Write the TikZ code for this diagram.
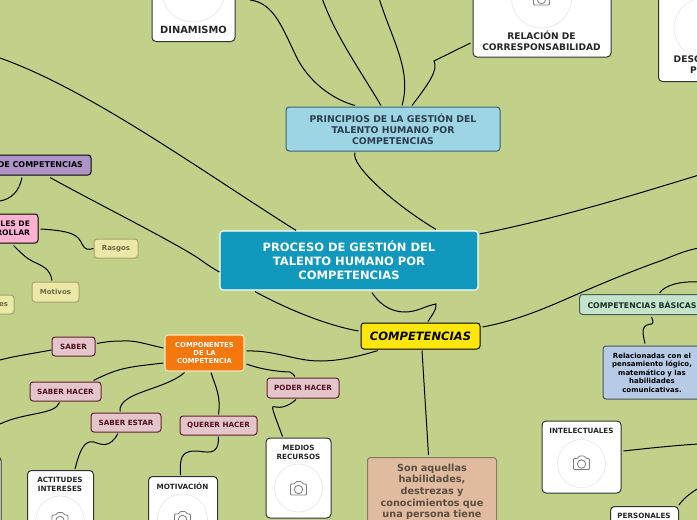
\documentclass[tikz,border=0pt]{standalone}
\usepackage{fontspec}
\setmainfont{DejaVu Sans}
\definecolor{bgc}{RGB}{194,209,138}
\definecolor{centc}{RGB}{16,153,189}
\definecolor{prinf}{RGB}{157,213,228}
\definecolor{prind}{RGB}{62,98,115}
\definecolor{print}{RGB}{44,62,80}
\definecolor{yelc}{RGB}{255,231,11}
\definecolor{purc}{RGB}{175,148,200}
\definecolor{pinkc}{RGB}{255,179,209}
\definecolor{kf}{RGB}{236,232,168}
\definecolor{kd}{RGB}{165,162,106}
\definecolor{kt}{RGB}{108,104,70}
\definecolor{rf}{RGB}{228,197,203}
\definecolor{rd}{RGB}{101,31,46}
\definecolor{rt}{RGB}{84,14,32}
\definecolor{orc}{RGB}{245,120,13}
\definecolor{orb}{RGB}{250,228,190}
\definecolor{sf}{RGB}{224,187,159}
\definecolor{sd}{RGB}{133,122,104}
\definecolor{st}{RGB}{90,78,64}
\definecolor{gf}{RGB}{195,227,203}
\definecolor{gd}{RGB}{72,96,84}
\definecolor{gt}{RGB}{24,48,36}
\definecolor{bf}{RGB}{183,203,231}
\definecolor{bd}{RGB}{70,84,100}
\definecolor{camc}{RGB}{125,125,125}
\definecolor{ringc}{RGB}{232,232,232}
\tikzset{
 x=1pt,y=-1pt,
 base/.style={draw,rounded corners=3pt,line width=1pt,inner sep=0pt,align=center},
 central/.style={base,fill=centc,draw=white,text=white,line width=1.2pt,font=\fontsize{11.5}{14}\selectfont\bfseries},
 princ/.style={base,fill=prinf,draw=prind,text=print,font=\fontsize{9.3}{11.2}\selectfont\bfseries},
 compet/.style={base,fill=yelc,draw=black,font=\fontsize{11.5}{14}\selectfont\bfseries\itshape},
 purpl/.style={base,fill=purc,draw=black,font=\fontsize{8}{10}\selectfont\bfseries},
 pinkb/.style={base,fill=pinkc,draw=black,font=\fontsize{7.6}{9}\selectfont\bfseries},
 khaki/.style={base,fill=kf,draw=kd,text=kt,font=\fontsize{7}{9}\selectfont\bfseries},
 rose/.style={base,fill=rf,draw=rd,text=rt,font=\fontsize{7.2}{9}\selectfont\bfseries},
 orang/.style={base,fill=orc,draw=orb,text=white,line width=1.1pt,font=\fontsize{6.8}{8.4}\selectfont\bfseries},
 sandb/.style={base,fill=sf,draw=sd,text=st,font=\fontsize{9.7}{11.6}\selectfont\bfseries},
 greenb/.style={base,fill=gf,draw=gd,text=gt,font=\fontsize{7.8}{10}\selectfont\bfseries},
 blueb/.style={base,fill=bf,draw=bd,text=black,font=\fontsize{7}{8.5}\selectfont\bfseries},
 card/.style={base,fill=white,draw=black!80,rounded corners=4pt},
 cardtext/.style={inner sep=0pt,align=center,text=black!85,font=\fontsize{7.2}{9}\selectfont\bfseries},
 ring/.style={draw=ringc,line width=.7pt,fill=white},
 link/.style={draw=black,line width=1pt},
}
\newcommand{\camicon}[2]{%
 \begin{scope}[shift={(#1,#2)}]
  \draw[camc,line width=.8pt,rounded corners=1pt,fill=white] (-8,-5) -- (-4,-5) -- (-2.5,-7.5) -- (3,-7.5) -- (4.5,-5) -- (8,-5) -- (8,6) -- (-8,6) -- cycle;
  \draw[camc,line width=.8pt] (0,0.5) circle (4.2);
 \end{scope}}
\begin{document}
\begin{tikzpicture}
\useasboundingbox (0,0) rectangle (697,520);
\clip (0,0) rectangle (697,520);
\fill[bgc] (0,0) rectangle (697,520);

% free ends that run off the page
\coordinate (tl) at (0,58);
\coordinate (c0) at (250,0);
\coordinate (c1) at (322,-2);
\coordinate (c2) at (379,-2);
\coordinate (e0) at (0,201);
\coordinate (e1) at (0,360);
\coordinate (e2) at (0,424);
\coordinate (e3) at (699,175);
\coordinate (e4) at (699,248);
\coordinate (e5) at (699,282);
\coordinate (e6) at (699,444);
\coordinate (e7) at (699,488);

% nodes
\node[central,minimum width=258pt,minimum height=59pt] (cen) at (349,260.5) {PROCESO DE GESTIÓN DEL\\TALENTO HUMANO POR\\COMPETENCIAS};
\node[princ,minimum width=214pt,minimum height=44pt] (pri) at (393,129) {PRINCIPIOS DE LA GESTIÓN DEL\\TALENTO HUMANO POR\\COMPETENCIAS};
\node[compet,minimum width=119pt,minimum height=26pt] (com) at (420.5,336) {COMPETENCIAS};
\node[purpl,text width=93pt,align=right,inner xsep=8pt,minimum height=20pt] (pur) at (36.5,165) {DE COMPETENCIAS};
\node[pinkb,text width=60pt,align=right,inner xsep=8pt,minimum height=29pt] (pin) at (-0,228.5) {LES DE\hspace{2pt}\\ROLLAR};
\node[khaki,minimum width=44pt,minimum height=19pt] (ras) at (116,248.5) {Rasgos};
\node[khaki,minimum width=47pt,minimum height=20pt] (mot) at (55.5,292) {Motivos};
\node[khaki,text width=20pt,align=right,inner xsep=6pt,minimum height=19pt] (tes) at (-2,304.5) {es};
\node[orang,minimum width=79pt,minimum height=36pt] (cpt) at (204.5,353) {COMPONENTES\\DE LA\\COMPETENCIA};
\node[rose,minimum width=43pt,minimum height=19pt] (sab) at (73.5,346.5) {SABER};
\node[rose,minimum width=71pt,minimum height=19pt] (sah) at (65.5,391.5) {SABER HACER};
\node[rose,minimum width=70pt,minimum height=19pt] (sae) at (126,422.5) {SABER ESTAR};
\node[rose,minimum width=77pt,minimum height=19pt] (que) at (218.5,425.5) {QUERER HACER};
\node[rose,minimum width=72pt,minimum height=20pt] (pod) at (303,388) {PODER HACER};
\node[sandb,anchor=north west,text width=129pt,inner ysep=6.5pt] (son) at (367,457) {Son aquellas\\habilidades,\\destrezas y\\conocimientos que\\una persona tiene\\\strut};
\node[greenb,anchor=north west,minimum width=140pt,minimum height=20pt,text width=132pt,align=left,inner xsep=4pt] (bas) at (579,294) {\hspace{4pt}COMPETENCIAS BÁSICAS};
\node[blueb,minimum width=98pt,minimum height=53pt] (rel) at (652,372.5) {Relacionadas con el\\pensamiento lógico,\\matemático y las\\habilidades\\comunicativas.};

% cards
\node[card,minimum width=83pt,minimum height=71pt] (din) at (193.5,6) {};
\node[card,minimum width=138pt,minimum height=87pt] (rlc) at (542,13.5) {};
\node[card,anchor=north west,minimum width=60pt,minimum height=86pt] (des) at (658,-5) {};
\node[card,minimum width=65pt,minimum height=80pt] (med) at (298.5,478) {};
\node[card,anchor=north west,minimum width=69pt,minimum height=70pt] (mti) at (148,476) {};
\node[card,anchor=north west,minimum width=66pt,minimum height=70pt] (act) at (27,470) {};
\node[card,anchor=north east,minimum width=20pt,minimum height=90pt] (lft) at (1.5,456) {};
\node[card,minimum width=79pt,minimum height=72pt] (int) at (581.5,457) {};
\node[card,anchor=north west,minimum width=68pt,minimum height=40pt] (per) at (610,506) {};

\fill[ring] (193.5,-10) circle (32);
\fill[ring] (541.5,-2) circle (30);
\fill[ring] (704,28) circle (30);
\fill[ring] (298.5,488) circle (24);
\fill[ring] (182.5,519) circle (25);
\fill[ring] (60,520) circle (24);
\fill[ring] (581.5,463.5) circle (24);
\camicon{541.5}{-1}
\camicon{298.5}{489}
\camicon{182.5}{519}
\camicon{60}{520}
\camicon{581.5}{463.5}

\node[cardtext,font=\fontsize{9.9}{11}\selectfont\bfseries] (tdin) at (193.5,30) {DINAMISMO};
\node[cardtext,font=\fontsize{9.1}{11.3}\selectfont\bfseries] (trlc) at (541.5,41) {RELACIÓN DE\\CORRESPONSABILIDAD};
\node[cardtext,font=\fontsize{9.1}{11}\selectfont\bfseries,anchor=north west] (tdes) at (670,56) {DESC\\\hspace{20pt}PU};
\node[cardtext] (tmed) at (298.5,452) {MEDIOS\\RECURSOS};
\node[cardtext] (tmti) at (182.5,486) {MOTIVACIÓN};
\node[cardtext] (tact) at (60,484.5) {ACTITUDES\\INTERESES};
\node[cardtext] (tint) at (581.5,430.5) {INTELECTUALES};
\node[cardtext] (tper) at (644,515.5) {PERSONALES};

% connectors
\draw[link] (tl) .. controls (90,90) and (200,170) .. ([xshift=-53pt]cen.north);
\draw[link] ([xshift=13.5pt,yshift=-2pt]pur.south) .. controls (100,205) and (170,240) .. (198,258) .. controls (205,263) and (212,268) .. ([yshift=-11.5pt]cen.west);
\draw[link] ([xshift=-14.5pt,yshift=-2pt]pur.south) .. controls (19,192) and (11,199) .. (e0);
\draw[link] (pin.east) ++(2,0.5) .. controls (75,231) and (78,236) .. (82,244) .. controls (85,250) and (88,250) .. (ras.west);
\draw[link] ([yshift=-17pt,xshift=-25pt]pin.east) .. controls (20,252) and (26,258) .. (32,261) .. controls (42,266) and (50,268) .. ([yshift=1pt,xshift=-3.5pt]mot.north);
\draw[link] (c0) .. controls (275,3) and (283,30) .. (298,60) .. controls (312,85) and (335,100) .. ([xshift=-38pt,yshift=1pt]pri.north);
\draw[link] (c1) .. controls (335,35) and (360,70) .. ([xshift=-12pt,yshift=1pt]pri.north);
\draw[link] (c2) .. controls (392,40) and (412,70) .. ([xshift=9pt,yshift=1pt]pri.north);
\draw[link] ([xshift=-2pt,yshift=-29.5pt]rlc.west) -- (434,61) .. controls (438,70) and (430,82) .. ([xshift=19pt,yshift=1pt]pri.north);
\draw[link] ([xshift=-38pt,yshift=-1pt]pri.south) .. controls (350,165) and (395,205) .. ([xshift=87pt,yshift=1pt]cen.north);
\draw[link] ([xshift=1pt,yshift=26.5pt]cen.east) .. controls (560,218) and (640,193) .. (e3);
\draw[link] ([xshift=2pt,yshift=9pt]com.east) .. controls (520,320) and (550,306) .. (580,293) .. controls (610,280) and (640,268) .. (663,260) .. controls (675,255) and (687,250) .. (e4);
\draw[link] ([xshift=23pt,yshift=-2pt]cen.south) .. controls (382,308) and (395,312) .. (405,312) .. controls (417,312) and (425,306) .. (436,304) .. controls (437,310) and (431,316) .. ([xshift=7.5pt,yshift=1pt]com.north);
\draw[link] ([xshift=-94pt,yshift=-1pt]cen.south) .. controls (285,308) and (325,325) .. ([xshift=-2pt,yshift=5pt]com.west);
\draw[link] ([xshift=2pt,yshift=2pt]cpt.east) .. controls (275,350) and (295,361) .. (320,361) .. controls (340,361) and (360,356) .. ([xshift=-42.5pt,yshift=-1pt]com.south);
\draw[link] ([xshift=-1pt,yshift=5pt]cpt.west) .. controls (145,344) and (135,340) .. (122,341) .. controls (112,341) and (104,342) .. ([xshift=1.5pt,yshift=3pt]sab.east);
\draw[link] ([yshift=-3.5pt]sab.west) .. controls (30,354) and (15,356) .. (e1);
\draw[link] ([xshift=-1pt,yshift=-10pt]cpt.west) .. controls (130,367) and (120,367) .. ([xshift=28pt,yshift=1pt]sah.north);
\draw[link] ([xshift=-6pt,yshift=-1pt]sah.south) .. controls (55,415) and (25,412) .. (e2);
\draw[link] ([xshift=-20pt,yshift=-1pt]cpt.south) .. controls (165,390) and (118,392) .. ([xshift=-6pt,yshift=1pt]sae.north);
\draw[link] ([xshift=-8pt,yshift=-1pt]sae.south) .. controls (110,448) and (102,445) .. (94,442) .. controls (84,440) and (80,450) .. ([xshift=14.5pt,yshift=1pt]act.north);
\draw[link] ([xshift=6.5pt,yshift=-1pt]cpt.south) .. controls (216,388) and (221,396) .. ([yshift=1pt]que.north);
\draw[link] ([yshift=-1pt]que.south) .. controls (219,458) and (206,451) .. (195,451) .. controls (180,451) and (180,460) .. ([xshift=-2.5pt,yshift=1pt]mti.north);
\draw[link] ([xshift=2pt,yshift=-11pt]cpt.east) .. controls (262,370) and (283,372) .. (290,372) .. controls (292,373) and (294,375) .. ([xshift=-8pt,yshift=1pt]pod.north);
\draw[link] ([xshift=-7pt,yshift=-1pt]pod.south) .. controls (288,407) and (280,408) .. (276,407) .. controls (270,405) and (272,408) .. ([xshift=-16pt,yshift=1pt]med.north);
\draw[link] ([xshift=1.5pt,yshift=-1pt]com.south) -- ([xshift=-3.5pt,yshift=2pt]son.north);
\draw[link] ([xshift=10pt,yshift=1pt]bas.north) .. controls (665,285) and (680,281) .. (e5);
\draw[link] ([xshift=2pt,yshift=-2pt]bas.south) .. controls (655,326) and (652,323) .. (647,325) .. controls (640,328) and (644,338) .. ([xshift=-7pt,yshift=2pt]rel.north);
\draw[link] ([xshift=2pt,yshift=6pt]int.east) .. controls (650,448) and (680,445) .. (e6);
\draw[link] ([yshift=1pt]per.north east) .. controls (682,500) and (690,493) .. (e7);
\end{tikzpicture}
\end{document}
